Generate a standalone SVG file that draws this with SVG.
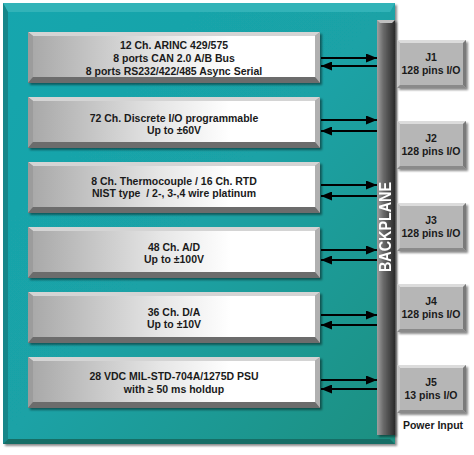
<svg xmlns="http://www.w3.org/2000/svg" xmlns:xlink="http://www.w3.org/1999/xlink" width="474" height="455" viewBox="0 0 474 455">
<defs>
<style>
.t{font-family:"Liberation Sans",Arial,sans-serif;font-weight:bold;font-size:10.5px;fill:#1a1a1a;text-anchor:middle}
.j{font-family:"Liberation Sans",Arial,sans-serif;font-weight:bold;font-size:10.5px;fill:#1a1a1a;text-anchor:middle}
.ar{stroke:#000;stroke-width:2;fill:none}
</style>
<linearGradient id="panel" x1="0" y1="0" x2="1" y2="1">
<stop offset="0" stop-color="#18a6ae"/>
<stop offset="0.5" stop-color="#1aa2a6"/>
<stop offset="1" stop-color="#1f8f80"/>
</linearGradient>
<linearGradient id="face" x1="0" y1="0" x2="1" y2="0">
<stop offset="0" stop-color="#a9a9a9"/>
<stop offset="0.45" stop-color="#e6e6e6"/>
<stop offset="0.7" stop-color="#ffffff"/>
<stop offset="1" stop-color="#ffffff"/>
</linearGradient>
<linearGradient id="bp" x1="0" y1="0" x2="1" y2="0">
<stop offset="0" stop-color="#a0a0a0"/>
<stop offset="0.35" stop-color="#6a6a6a"/>
<stop offset="1" stop-color="#2a2a2a"/>
</linearGradient>
<filter id="sh" x="-10%" y="-10%" width="130%" height="130%">
<feDropShadow dx="2" dy="2" stdDeviation="1.2" flood-color="#000" flood-opacity="0.45"/>
</filter>
<marker id="ah" markerWidth="11" markerHeight="9" refX="11" refY="4.5" orient="auto" markerUnits="userSpaceOnUse">
<path d="M0,0 L11,4.5 L0,9 Z" fill="#000"/>
</marker>
<g id="mod">
<rect x="0" y="0" width="292" height="51" fill="#8a8a8a"/>
<polygon points="0,0 292,0 287,4 5,4" fill="#d4d4d4"/>
<polygon points="0,0 5,4 5,45 0,51" fill="#9c9c9c"/>
<polygon points="292,0 292,51 287,45 287,4" fill="#b0b0b0"/>
<polygon points="0,51 5,45 287,45 292,51" fill="#6c6c6c"/>
<rect x="5" y="4" width="282" height="41" fill="url(#face)"/>
</g>
<g id="jb">
<rect x="0" y="0" width="69" height="48" fill="#b6b6b6"/>
<polygon points="0,0 69,0 66,3 3,3" fill="#dcdcdc"/>
<polygon points="0,0 3,3 3,45 0,48" fill="#c8c8c8"/>
<polygon points="69,0 69,48 66,45 66,3" fill="#7a7a7a"/>
<polygon points="0,48 3,45 66,45 69,48" fill="#8a8a8a"/>
</g>
</defs>
<rect width="474" height="455" fill="#ffffff"/>
<g id="panel-bg" filter="url(#sh)">
<rect x="3" y="3" width="392" height="441" fill="url(#panel)"/>
<polygon points="3,3 395,3 390,12 8,12" fill="#33b3b8"/>
<polygon points="3,3 8,12 8,439 3,444" fill="#17868a"/>
<polygon points="3,444 8,439 390,439 395,444" fill="#176e66"/>
</g>
<g id="backplane" filter="url(#sh)">
<rect x="377" y="20" width="18" height="415" fill="url(#bp)"/>
<polygon points="377,20 395,20 392,23 380,23" fill="#c0c0c0"/>
<text x="0" y="0" transform="translate(391,227) rotate(-90)" font-family="'Liberation Sans',Arial,sans-serif" font-weight="bold" font-size="16" fill="#ffffff" text-anchor="middle" textLength="90" lengthAdjust="spacingAndGlyphs">BACKPLANE</text>
</g>
<g id="m1"><use xlink:href="#mod" x="28" y="32" filter="url(#sh)"/>
<text class="t" x="174" y="49">12 Ch. ARINC 429/575</text>
<text class="t" x="174" y="62">8 ports CAN 2.0 A/B Bus</text>
<text class="t" x="174" y="75">8 ports RS232/422/485 Async Serial</text></g>
<g id="m2"><use xlink:href="#mod" x="28" y="97" filter="url(#sh)"/>
<text class="t" x="174" y="122">72 Ch. Discrete I/O programmable</text>
<text class="t" x="174" y="134">Up to ±60V</text></g>
<g id="m3"><use xlink:href="#mod" x="28" y="162" filter="url(#sh)"/>
<text class="t" x="174" y="185">8 Ch. Thermocouple / 16 Ch. RTD</text>
<text class="t" x="174" y="197" xml:space="preserve">NIST type  / 2-, 3-,4 wire platinum</text></g>
<g id="m4"><use xlink:href="#mod" x="28" y="227" filter="url(#sh)"/>
<text class="t" x="174" y="251">48 Ch. A/D</text>
<text class="t" x="174" y="263">Up to ±100V</text></g>
<g id="m5"><use xlink:href="#mod" x="28" y="292" filter="url(#sh)"/>
<text class="t" x="174" y="316">36 Ch. D/A</text>
<text class="t" x="174" y="328">Up to ±10V</text></g>
<g id="m6"><use xlink:href="#mod" x="28" y="357" filter="url(#sh)"/>
<text class="t" x="174" y="380">28 VDC MIL-STD-704A/1275D PSU</text>
<text class="t" x="174" y="393">with ≥ 50 ms holdup</text></g>
<g id="J1"><use xlink:href="#jb" x="397" y="40" filter="url(#sh)"/>
<text class="j" x="431" y="61">J1</text><text class="j" x="431" y="74">128 pins I/O</text></g>
<g id="J2"><use xlink:href="#jb" x="397" y="121" filter="url(#sh)"/>
<text class="j" x="431" y="142">J2</text><text class="j" x="431" y="155">128 pins I/O</text></g>
<g id="J3"><use xlink:href="#jb" x="397" y="203" filter="url(#sh)"/>
<text class="j" x="431" y="224">J3</text><text class="j" x="431" y="237">128 pins I/O</text></g>
<g id="J4"><use xlink:href="#jb" x="397" y="284" filter="url(#sh)"/>
<text class="j" x="431" y="305">J4</text><text class="j" x="431" y="318">128 pins I/O</text></g>
<g id="J5"><use xlink:href="#jb" x="397" y="365" filter="url(#sh)"/>
<text class="j" x="431" y="386">J5</text><text class="j" x="431" y="399">13 pins I/O</text></g>
<text id="power" class="j" x="433" y="429">Power Input</text>
<g id="connectors">
<line class="ar" x1="321" y1="58" x2="377" y2="58" marker-end="url(#ah)"/>
<line class="ar" x1="377" y1="66" x2="321" y2="66" marker-end="url(#ah)"/>
<line class="ar" x1="321" y1="120" x2="377" y2="120" marker-end="url(#ah)"/>
<line class="ar" x1="377" y1="131" x2="321" y2="131" marker-end="url(#ah)"/>
<line class="ar" x1="321" y1="185" x2="377" y2="185" marker-end="url(#ah)"/>
<line class="ar" x1="377" y1="196" x2="321" y2="196" marker-end="url(#ah)"/>
<line class="ar" x1="321" y1="250" x2="377" y2="250" marker-end="url(#ah)"/>
<line class="ar" x1="377" y1="260" x2="321" y2="260" marker-end="url(#ah)"/>
<line class="ar" x1="321" y1="315" x2="377" y2="315" marker-end="url(#ah)"/>
<line class="ar" x1="377" y1="325" x2="321" y2="325" marker-end="url(#ah)"/>
<line class="ar" x1="321" y1="380" x2="377" y2="380" marker-end="url(#ah)"/>
<line class="ar" x1="377" y1="389" x2="321" y2="389" marker-end="url(#ah)"/>
</g>
</svg>
